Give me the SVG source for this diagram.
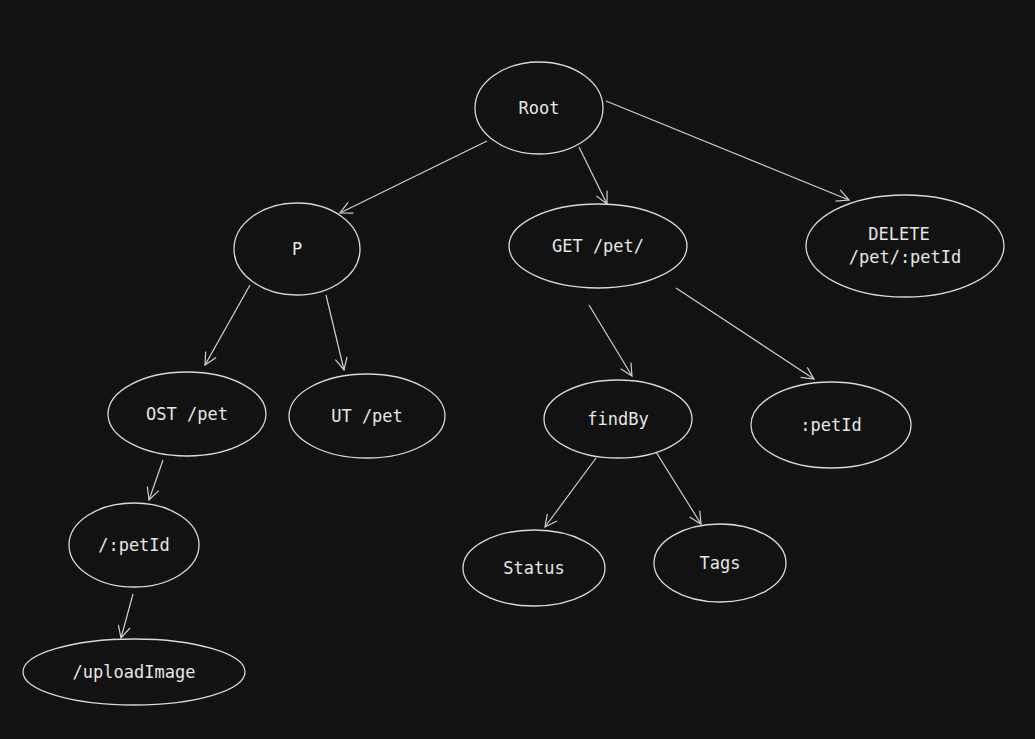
<svg xmlns="http://www.w3.org/2000/svg" width="1035" height="739" viewBox="0 0 1035 739">
<style>
.n ellipse{fill:none;stroke:#d8d8d8;stroke-width:1.3}
.n text{fill:#e6e6e6;font-family:"DejaVu Sans Mono","Liberation Mono",monospace;font-size:17px;text-anchor:middle;dominant-baseline:central}
.c line{stroke:#cfcfcf;stroke-width:1.2;marker-end:url(#a)}
</style>
<defs><marker id="a" markerWidth="16" markerHeight="16" refX="14" refY="8" orient="auto" markerUnits="userSpaceOnUse"><path d="M2,2 L14,8 L2,14" fill="none" stroke="#cfcfcf" stroke-width="1.2"/></marker></defs>
<rect width="1035" height="739" fill="#121212"/>
<g class="c">
<line x1="487" y1="141" x2="340" y2="213"/>
<line x1="579" y1="147" x2="607" y2="204"/>
<line x1="606" y1="101" x2="849" y2="200"/>
<line x1="250" y1="285" x2="205" y2="365"/>
<line x1="326" y1="295" x2="344" y2="370"/>
<line x1="589" y1="305" x2="632" y2="376"/>
<line x1="676" y1="288" x2="814" y2="379"/>
<line x1="163" y1="460" x2="149" y2="500"/>
<line x1="133" y1="594" x2="121" y2="638"/>
<line x1="596" y1="458" x2="545" y2="527"/>
<line x1="656" y1="452" x2="701" y2="524"/>
</g>
<g id="root" class="n"><ellipse cx="539" cy="108" rx="64" ry="46"/><text x="539" y="108">Root</text></g>
<g id="p" class="n"><ellipse cx="297" cy="249" rx="63" ry="46"/><text x="297" y="249">P</text></g>
<g id="get" class="n"><ellipse cx="598" cy="246" rx="89" ry="42"/><text x="598" y="246">GET /pet/</text></g>
<g id="delete" class="n"><ellipse cx="905" cy="246" rx="99" ry="51"/><text x="899" y="234">DELETE</text><text x="905" y="257">/pet/:petId</text></g>
<g id="ost" class="n"><ellipse cx="187" cy="414" rx="79" ry="42"/><text x="187" y="414">OST /pet</text></g>
<g id="ut" class="n"><ellipse cx="367" cy="416" rx="78" ry="42"/><text x="367" y="416">UT /pet</text></g>
<g id="findby" class="n"><ellipse cx="618" cy="419" rx="74" ry="39"/><text x="618" y="419">findBy</text></g>
<g id="petid" class="n"><ellipse cx="831" cy="425" rx="80" ry="43"/><text x="831" y="425">:petId</text></g>
<g id="petid2" class="n"><ellipse cx="134" cy="545" rx="65" ry="42"/><text x="134" y="545">/:petId</text></g>
<g id="status" class="n"><ellipse cx="534" cy="568" rx="71" ry="38"/><text x="534" y="568">Status</text></g>
<g id="tags" class="n"><ellipse cx="720" cy="563" rx="66" ry="39"/><text x="720" y="563">Tags</text></g>
<g id="upload" class="n"><ellipse cx="134" cy="672" rx="111" ry="33"/><text x="134" y="672">/uploadImage</text></g>
</svg>
